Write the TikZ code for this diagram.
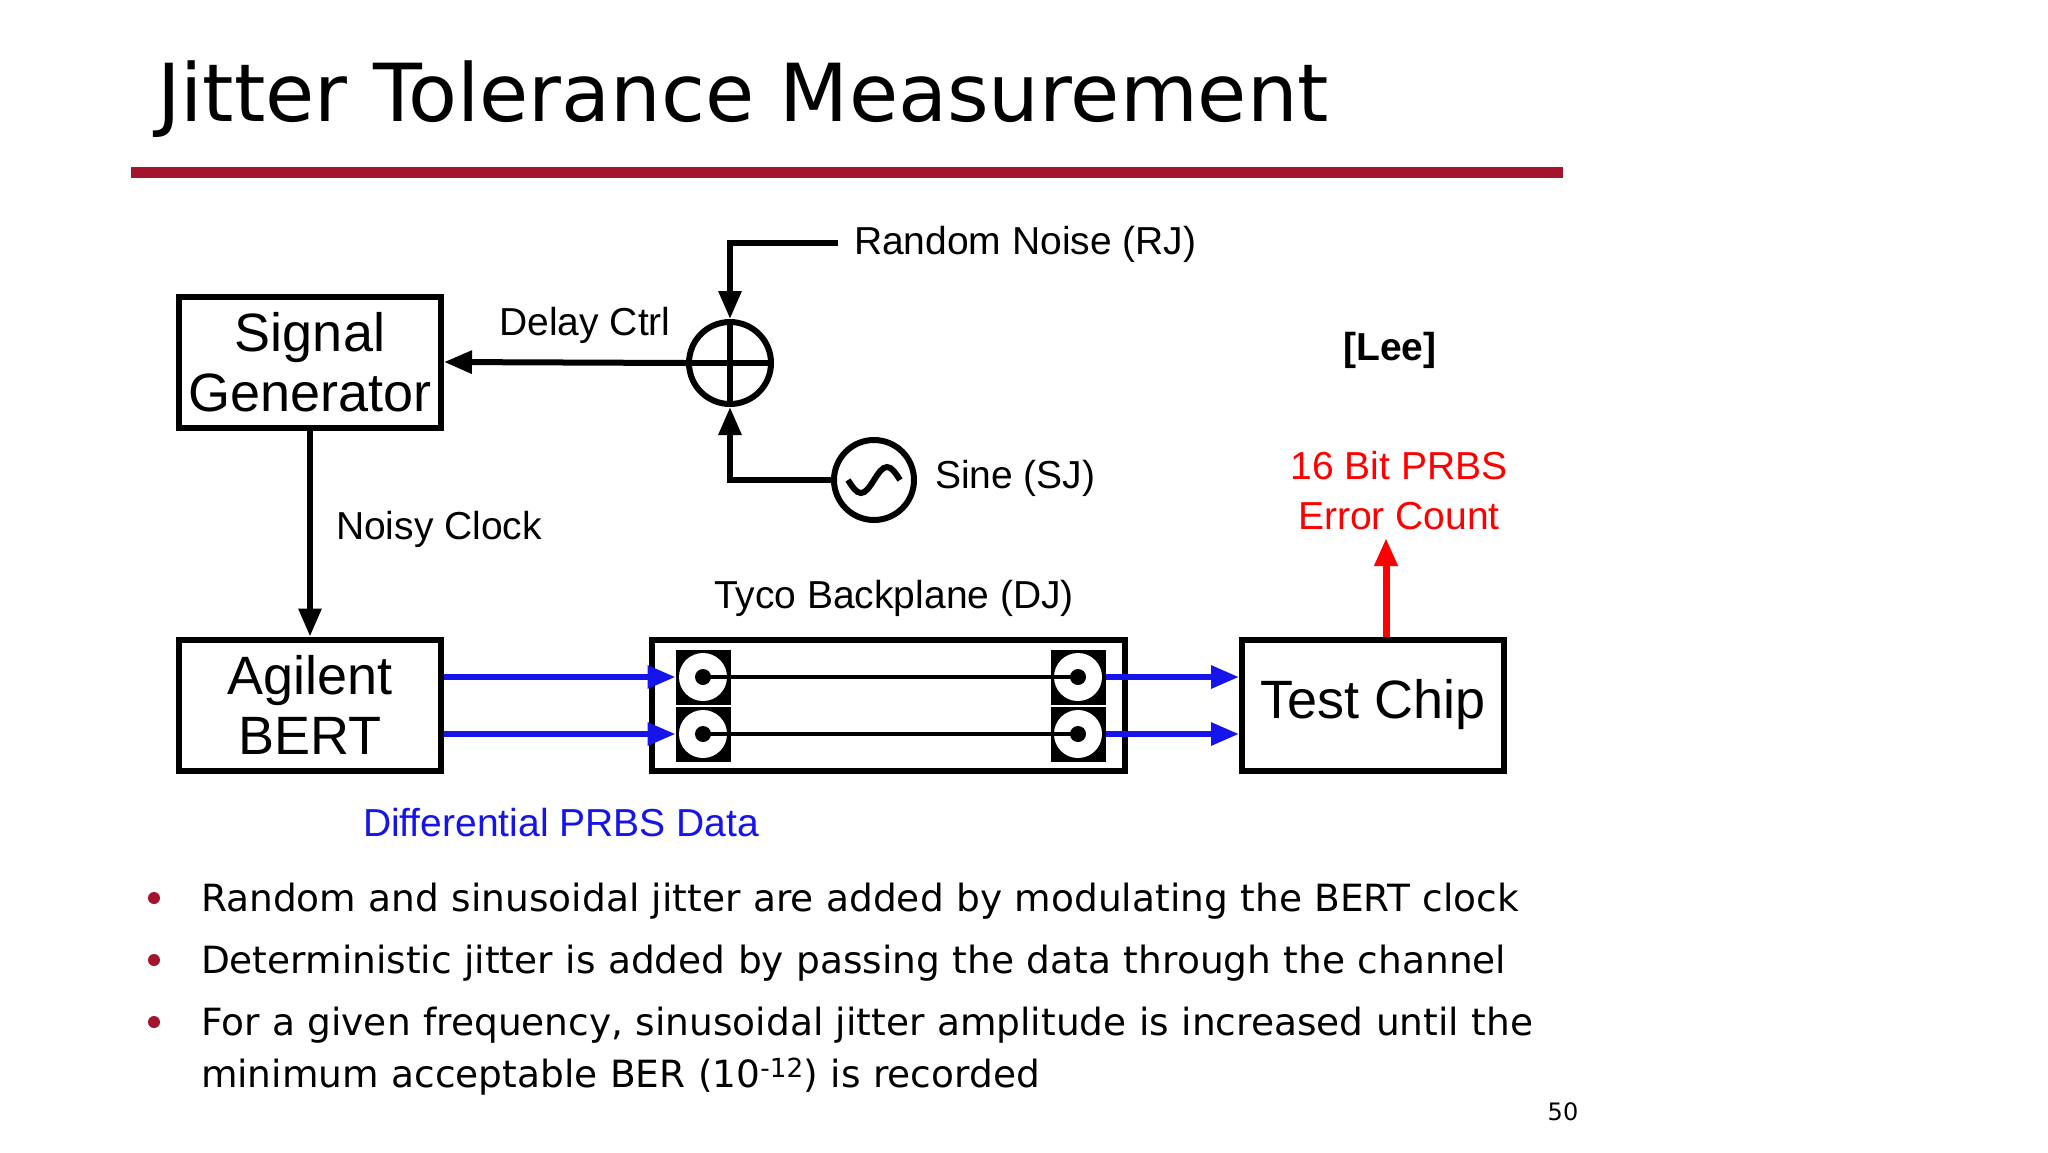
\documentclass[tikz,border=0pt]{standalone}
\usepackage{fontspec}
\setmainfont{Liberation Sans}
\newfontfamily\slidefont{DejaVu Sans}
\usetikzlibrary{arrows.meta,positioning}
\definecolor{slidered}{RGB}{165,20,45}
\definecolor{bertblue}{RGB}{20,20,235}
\tikzset{
  block/.style={draw,line width=6pt,minimum width=262pt,minimum height=131pt,align=center,font=\fontsize{54}{62}\selectfont},
  conn/.style={draw,line width=3pt,fill=black,minimum size=52pt,inner sep=0pt},
  lbl/.style={font=\fontsize{39}{44}\selectfont,inner sep=0pt},
  bullet/.style={font=\slidefont\fontsize{37.5}{52}\selectfont,anchor=base west,inner sep=0pt,align=left,text width=1400pt},
}
\begin{document}
\begin{tikzpicture}[x=1pt,y=-1pt,>={Triangle[length=28pt,width=22pt]},line width=6pt]
    \useasboundingbox (0,0) rectangle (2048,1152);
    \node[anchor=base west,inner sep=0pt,font=\slidefont\fontsize{80}{90}\selectfont] (title) at (154,121) {Jitter Tolerance Measurement};
    \coordinate (rl) at (131,172); \coordinate (rr) at (1563,172);
    \draw[slidered,line width=11pt] (rl) -- (rr);

    \node[block] (sig) at (310,362) {Signal\\[-2pt]Generator};
    \node[block] (bert) at (310,705) {Agilent\\[-2pt]BERT};
    \node[block] (chip) at (1373,705) {Test Chip};
    \node[draw,line width=6pt,minimum width=473pt,minimum height=131pt] (bp) at (888,705) {};
    \node[draw,circle,minimum size=82pt,line width=6pt] (sum) at (730,363) {};
    \draw (sum.north) -- (sum.south) (sum.west) -- (sum.east);
    \node[draw,circle,minimum size=80pt,line width=6pt] (sine) at (874,480) {};
    \draw ([xshift=-26pt]sine.center) sin ([xshift=-13pt,yshift=-13pt]sine.center) cos (sine.center) sin ([xshift=13pt,yshift=13pt]sine.center) cos ([xshift=26pt]sine.center);

    % connectors of the backplane
    \foreach \n/\x/\y in {a/703/677,b/703/734,c/1078/677,d/1078/734}{
        \node[conn] (\n) at (\x,\y) {};
        \fill[white] (\n.center) circle (24pt);
        \fill (\n.center) circle (8pt);
    }
    \draw[line width=4pt] (a.center) -- (c.center) (b.center) -- (d.center);

    \coordinate (rj) at (838,243);
    \draw[->] (rj) -| (sum.north);
    \draw[->] (sine.west) -| (sum.south);
    \draw[->] (sum.west) -- (sig.east);
    \draw[->] (sig.south) -- (bert.north);
    \draw[->,bertblue] (bert.east |- a) -- (a.west);
    \draw[->,bertblue] (bert.east |- b) -- (b.west);
    \draw[->,bertblue] (c.east) -- (chip.west |- c);
    \draw[->,bertblue] (d.east) -- (chip.west |- d);
    \coordinate (err) at (1386,538);
    \draw[->,red,line width=7pt] (chip.north -| err) -- (err);

    \node[lbl,anchor=west] (rjl) at (851,244) {Random Noise (RJ)};
    \node[lbl] (dly) at (585,325) {Delay Ctrl};
    \node[lbl,anchor=west] (sjl) at (932,478) {Sine (SJ)};
    \node[lbl,anchor=west] (nck) at (333,529) {Noisy Clock};
    \node[lbl] (tyco) at (894,598) {Tyco Backplane (DJ)};
    \node[lbl,red,align=center] (prbs) at (1399,491) {16 Bit PRBS\\[6pt]Error Count};
    \node[lbl,font=\bfseries\fontsize{39}{44}\selectfont] (lee) at (1390,350) {[Lee]};
    \node[lbl,bertblue] (diff) at (561,823) {Differential PRBS Data};

    % bullets
    \foreach \y/\t in {911/{Random and sinusoidal jitter are added by modulating the BERT clock},
                       973/{Deterministic jitter is added by passing the data through the channel},
                       1035/{For a given frequency, sinusoidal jitter amplitude is increased until the\\minimum acceptable BER (10\textsuperscript{-12}) is recorded}}{
        \fill[slidered] (154,\y-13) circle (6pt);
        \node[bullet] at (198,\y) {\t};
    }
    \node[font=\slidefont\fontsize{24}{28}\selectfont] (page) at (1563,1112) {50};
\end{tikzpicture}
\end{document}
